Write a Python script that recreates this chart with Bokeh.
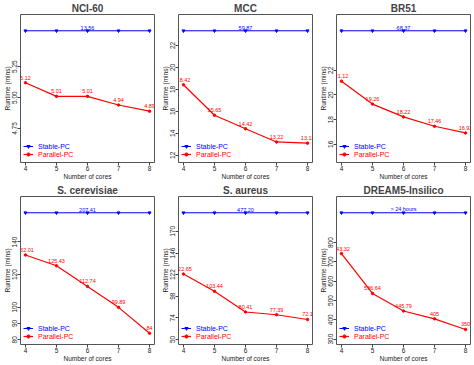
from bokeh.plotting import figure
from bokeh.layouts import column, row
from bokeh.models import (ColumnDataSource, Legend, LegendItem, FixedTicker,
                          NumeralTickFormatter, Range1d)
from bokeh.embed import file_html
from bokeh.resources import INLINE

# ---------------- data ----------------
cores = [4, 5, 6, 7, 8]
titles = ["NCI-60", "MCC", "BR51", "S. cerevisiae", "S. aureus", "DREAM5-Insilico"]
parallel_nci60 = [5.12, 5.01, 5.01, 4.94, 4.89]
parallel_mcc = [18.42, 15.65, 14.42, 13.22, 13.11]
parallel_br51 = [21.12, 19.26, 18.22, 17.46, 16.92]
parallel_scer = [132.01, 125.43, 112.74, 99.89, 84]
parallel_saur = [122.65, 103.44, 80.41, 77.39, 72.1]
parallel_dream = [743.32, 536.64, 445.79, 405, 350]
stable_labels = ["13.56", "59.87", "68.37", "207.41", "477.20", "> 24 hours"]
y_ticks = [[4.75, 5.00, 5.25], [12, 14, 16, 18, 20, 22], [16, 18, 20, 22],
           [80, 90, 100, 120, 140], [50, 74, 98, 122, 146, 170],
           [300, 400, 500, 600, 700, 800]]

# ---------------- layout config ----------------
Y_RANGES = [(4.475, 5.672), (11.35, 24.81), (14.52, 26.53),
            (77.1, 167.9), (44.3, 208.8), (272, 1039)]
Y_FORMATS = ["0.00", "0", "0", "0", "0", "0"]
STABLE_FRAC = 0.89
FONT = "Liberation Sans"
BLUE = "#0000FF"
RED = "#FF0000"
W, H = 158, 182


def fmt_label(v):
    return f"{v:g}"


def make_panel(title, vals, stable_label, yr, ticks, yfmt):
    p = figure(width=W, height=H, output_backend="svg", toolbar_location=None,
               x_range=Range1d(3.84, 8.16), y_range=Range1d(*yr),
               min_border_left=0, min_border_right=4, min_border_top=0,
               min_border_bottom=0)
    p.title.text = title
    p.title.align = "center"
    p.title.text_font = FONT
    p.title.text_font_size = "10px"
    p.title.text_font_style = "bold"
    p.title.standoff = 1
    p.title.offset = 0

    stable_y = yr[0] + STABLE_FRAC * (yr[1] - yr[0])
    s_src = ColumnDataSource(dict(x=cores, y=[stable_y] * len(cores)))
    l1 = p.line("x", "y", source=s_src, color=BLUE, line_width=1)
    m1 = p.scatter("x", "y", source=s_src, marker="inverted_triangle", size=3,
                   color=BLUE)
    mid = cores[len(cores) // 2]
    p.text(x=[mid], y=[stable_y], text=[stable_label], text_color=BLUE,
           text_font_size="5.5px", text_align="center", text_baseline="bottom",
           y_offset=-1, text_font={"value": FONT})

    p_src = ColumnDataSource(dict(x=cores, y=vals,
                                  lab=[fmt_label(v) for v in vals]))
    l2 = p.line("x", "y", source=p_src, color=RED, line_width=1.2)
    m2 = p.scatter("x", "y", source=p_src, marker="circle", size=2.5, color=RED)
    p.text("x", "y", text="lab", source=p_src, text_color=RED,
           text_font_size="5.5px", text_align="center", text_baseline="bottom",
           y_offset=-3, text_font={"value": FONT})

    leg1 = Legend(items=[LegendItem(label="Stable-PC", renderers=[l1, m1])],
                  location=(3, 12), label_text_color=BLUE)
    leg2 = Legend(items=[LegendItem(label="Parallel-PC", renderers=[l2, m2])],
                  location=(3, 4), label_text_color=RED)
    for lg in (leg1, leg2):
        lg.glyph_width = 10
        lg.glyph_height = 8
        lg.label_height = 8
        lg.label_text_font = FONT
        lg.label_text_font_size = "7px"
        lg.label_text_baseline = "middle"
        lg.padding = 0
        lg.spacing = 0
        lg.margin = 0
        lg.label_standoff = 5
        lg.border_line_color = None
        lg.background_fill_alpha = 0
        p.add_layout(lg)

    p.xaxis.ticker = FixedTicker(ticks=cores)
    p.yaxis.ticker = FixedTicker(ticks=ticks)
    p.yaxis.formatter = NumeralTickFormatter(format=yfmt)
    p.xaxis.axis_label = "Number of cores"
    p.yaxis.axis_label = "Runtime (mins)"
    p.yaxis.major_label_orientation = "vertical"
    for ax in (p.xaxis[0], p.yaxis[0]):
        ax.axis_label_text_font = FONT
        ax.axis_label_text_font_size = "6.5px"
        ax.axis_label_text_font_style = "normal"
        ax.axis_label_text_color = "#222222"
        ax.axis_label_text_line_height = 1.0
        ax.major_label_text_font = FONT
        ax.major_label_text_font_size = "6.5px"
        ax.major_label_text_color = "#222222"
        ax.axis_line_color = None
        ax.major_tick_line_color = "#444444"
        ax.major_tick_out = 3
        ax.major_tick_in = 0
        ax.minor_tick_out = 0
        ax.minor_tick_in = 0
        ax.major_label_standoff = 0
        ax.axis_label_standoff = -1
    p.xgrid.visible = False
    p.ygrid.visible = False
    p.outline_line_color = "#555555"
    p.outline_line_width = 1
    return p


series = [parallel_nci60, parallel_mcc, parallel_br51,
          parallel_scer, parallel_saur, parallel_dream]
panels = [make_panel(titles[i], series[i], stable_labels[i], Y_RANGES[i],
                     y_ticks[i], Y_FORMATS[i]) for i in range(6)]

layout = column(row(*panels[:3]), row(*panels[3:]))
open("out.html", "w").write(file_html(layout, INLINE))
